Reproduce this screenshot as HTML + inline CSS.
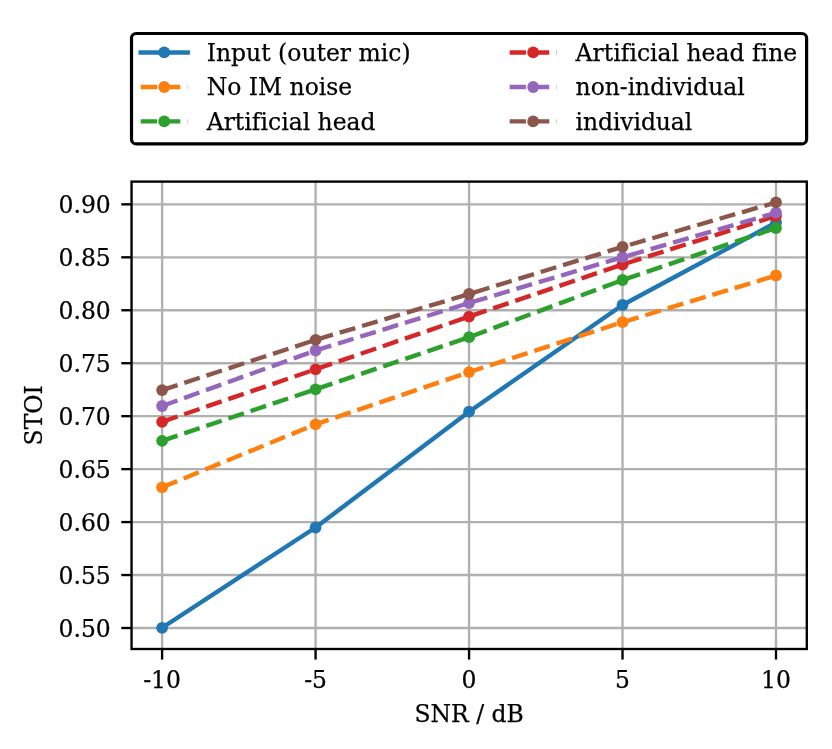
<!DOCTYPE html>
<html lang="en"><head><meta charset="utf-8"><title>STOI vs SNR</title>
<style>html,body{margin:0;padding:0;background:#fff}svg{display:block}text{font-family:"DejaVu Serif","Liberation Serif",serif;font-size:23.48px;fill:#000;font-variant-ligatures:none;font-feature-settings:"liga" 0,"clig" 0;font-kerning:none;stroke:#000;stroke-width:0.25px;stroke-linejoin:round}</style>
</head><body>
<svg width="832" height="749" viewBox="0 0 832 749">
<rect width="832" height="749" fill="#fff"/>
<g stroke="#b0b0b0" stroke-width="2.35" fill="none">
<line x1="162.10" y1="181.60" x2="162.10" y2="649.00"/>
<line x1="315.57" y1="181.60" x2="315.57" y2="649.00"/>
<line x1="469.05" y1="181.60" x2="469.05" y2="649.00"/>
<line x1="622.52" y1="181.60" x2="622.52" y2="649.00"/>
<line x1="776.00" y1="181.60" x2="776.00" y2="649.00"/>
<line x1="131.55" y1="204.35" x2="806.80" y2="204.35"/>
<line x1="131.55" y1="257.31" x2="806.80" y2="257.31"/>
<line x1="131.55" y1="310.26" x2="806.80" y2="310.26"/>
<line x1="131.55" y1="363.22" x2="806.80" y2="363.22"/>
<line x1="131.55" y1="416.17" x2="806.80" y2="416.17"/>
<line x1="131.55" y1="469.12" x2="806.80" y2="469.12"/>
<line x1="131.55" y1="522.08" x2="806.80" y2="522.08"/>
<line x1="131.55" y1="575.03" x2="806.80" y2="575.03"/>
<line x1="131.55" y1="627.99" x2="806.80" y2="627.99"/>
</g>
<g stroke="#000" stroke-width="2.35" fill="none">
<line x1="162.10" y1="649.00" x2="162.10" y2="659.57"/>
<line x1="315.57" y1="649.00" x2="315.57" y2="659.57"/>
<line x1="469.05" y1="649.00" x2="469.05" y2="659.57"/>
<line x1="622.52" y1="649.00" x2="622.52" y2="659.57"/>
<line x1="776.00" y1="649.00" x2="776.00" y2="659.57"/>
<line x1="121.28" y1="204.35" x2="131.55" y2="204.35"/>
<line x1="121.28" y1="257.31" x2="131.55" y2="257.31"/>
<line x1="121.28" y1="310.26" x2="131.55" y2="310.26"/>
<line x1="121.28" y1="363.22" x2="131.55" y2="363.22"/>
<line x1="121.28" y1="416.17" x2="131.55" y2="416.17"/>
<line x1="121.28" y1="469.12" x2="131.55" y2="469.12"/>
<line x1="121.28" y1="522.08" x2="131.55" y2="522.08"/>
<line x1="121.28" y1="575.03" x2="131.55" y2="575.03"/>
<line x1="121.28" y1="627.99" x2="131.55" y2="627.99"/>
</g>
<clipPath id="ax"><rect x="131.55" y="181.60" width="675.25" height="467.40"/></clipPath>
<g clip-path="url(#ax)">
<polyline points="162.10,627.80 315.57,527.50 469.05,411.70 622.52,305.00 776.00,222.50" fill="none" stroke="#1f77b4" stroke-width="4.40" stroke-linejoin="round" stroke-linecap="square"/>
<circle cx="162.10" cy="627.80" r="5.90" fill="#1f77b4"/>
<circle cx="315.57" cy="527.50" r="5.90" fill="#1f77b4"/>
<circle cx="469.05" cy="411.70" r="5.90" fill="#1f77b4"/>
<circle cx="622.52" cy="305.00" r="5.90" fill="#1f77b4"/>
<circle cx="776.00" cy="222.50" r="5.90" fill="#1f77b4"/>
<polyline points="162.10,487.30 315.57,424.30 469.05,372.10 622.52,322.20 776.00,275.50" fill="none" stroke="#ff7f0e" stroke-width="4.40" stroke-linejoin="round" stroke-dasharray="16.29 7.04" stroke-linecap="butt"/>
<circle cx="162.10" cy="487.30" r="5.90" fill="#ff7f0e"/>
<circle cx="315.57" cy="424.30" r="5.90" fill="#ff7f0e"/>
<circle cx="469.05" cy="372.10" r="5.90" fill="#ff7f0e"/>
<circle cx="622.52" cy="322.20" r="5.90" fill="#ff7f0e"/>
<circle cx="776.00" cy="275.50" r="5.90" fill="#ff7f0e"/>
<polyline points="162.10,440.80 315.57,389.30 469.05,337.20 622.52,280.00 776.00,228.00" fill="none" stroke="#2ca02c" stroke-width="4.40" stroke-linejoin="round" stroke-dasharray="16.29 7.04" stroke-linecap="butt"/>
<circle cx="162.10" cy="440.80" r="5.90" fill="#2ca02c"/>
<circle cx="315.57" cy="389.30" r="5.90" fill="#2ca02c"/>
<circle cx="469.05" cy="337.20" r="5.90" fill="#2ca02c"/>
<circle cx="622.52" cy="280.00" r="5.90" fill="#2ca02c"/>
<circle cx="776.00" cy="228.00" r="5.90" fill="#2ca02c"/>
<polyline points="162.10,421.80 315.57,369.30 469.05,316.60 622.52,264.50 776.00,216.00" fill="none" stroke="#d62728" stroke-width="4.40" stroke-linejoin="round" stroke-dasharray="16.29 7.04" stroke-linecap="butt"/>
<circle cx="162.10" cy="421.80" r="5.90" fill="#d62728"/>
<circle cx="315.57" cy="369.30" r="5.90" fill="#d62728"/>
<circle cx="469.05" cy="316.60" r="5.90" fill="#d62728"/>
<circle cx="622.52" cy="264.50" r="5.90" fill="#d62728"/>
<circle cx="776.00" cy="216.00" r="5.90" fill="#d62728"/>
<polyline points="162.10,406.00 315.57,350.50 469.05,303.00 622.52,257.20 776.00,212.70" fill="none" stroke="#9467bd" stroke-width="4.40" stroke-linejoin="round" stroke-dasharray="16.29 7.04" stroke-linecap="butt"/>
<circle cx="162.10" cy="406.00" r="5.90" fill="#9467bd"/>
<circle cx="315.57" cy="350.50" r="5.90" fill="#9467bd"/>
<circle cx="469.05" cy="303.00" r="5.90" fill="#9467bd"/>
<circle cx="622.52" cy="257.20" r="5.90" fill="#9467bd"/>
<circle cx="776.00" cy="212.70" r="5.90" fill="#9467bd"/>
<polyline points="162.10,390.10 315.57,339.90 469.05,294.00 622.52,246.90 776.00,202.40" fill="none" stroke="#8c564b" stroke-width="4.40" stroke-linejoin="round" stroke-dasharray="16.29 7.04" stroke-linecap="butt"/>
<circle cx="162.10" cy="390.10" r="5.90" fill="#8c564b"/>
<circle cx="315.57" cy="339.90" r="5.90" fill="#8c564b"/>
<circle cx="469.05" cy="294.00" r="5.90" fill="#8c564b"/>
<circle cx="622.52" cy="246.90" r="5.90" fill="#8c564b"/>
<circle cx="776.00" cy="202.40" r="5.90" fill="#8c564b"/>
</g>
<rect x="131.55" y="181.60" width="675.25" height="467.40" fill="none" stroke="#000" stroke-width="2.35"/>
<text x="110.80" y="213.40" text-anchor="end">0.90</text>
<text x="110.80" y="266.36" text-anchor="end">0.85</text>
<text x="110.80" y="319.31" text-anchor="end">0.80</text>
<text x="110.80" y="372.27" text-anchor="end">0.75</text>
<text x="110.80" y="425.22" text-anchor="end">0.70</text>
<text x="110.80" y="478.18" text-anchor="end">0.65</text>
<text x="110.80" y="531.13" text-anchor="end">0.60</text>
<text x="110.80" y="584.08" text-anchor="end">0.55</text>
<text x="110.80" y="637.04" text-anchor="end">0.50</text>
<text x="162.10" y="688.20" text-anchor="middle">-10</text>
<text x="315.57" y="688.20" text-anchor="middle">-5</text>
<text x="469.05" y="688.20" text-anchor="middle">0</text>
<text x="622.52" y="688.20" text-anchor="middle">5</text>
<text x="776.00" y="688.20" text-anchor="middle">10</text>
<text x="469.17" y="721.85" text-anchor="middle">SNR / dB</text>
<text transform="translate(42.35 415.30) rotate(-90)" text-anchor="middle">STOI</text>
<rect x="131.50" y="33.50" width="675.10" height="110.35" rx="4.7" ry="4.7" fill="#fff" stroke="#000" stroke-width="3.20"/>
<line x1="140.70" y1="52.45" x2="187.70" y2="52.45" stroke="#1f77b4" stroke-width="4.40" stroke-linecap="square"/>
<circle cx="164.20" cy="52.45" r="5.90" fill="#1f77b4"/>
<text x="206.70" y="60.50">Input (outer mic)</text>
<line x1="140.70" y1="87.00" x2="187.70" y2="87.00" stroke="#ff7f0e" stroke-width="4.40" stroke-dasharray="16.29 7.04"/>
<circle cx="164.20" cy="87.00" r="5.90" fill="#ff7f0e"/>
<text x="206.70" y="95.45">No IM noise</text>
<line x1="140.70" y1="121.40" x2="187.70" y2="121.40" stroke="#2ca02c" stroke-width="4.40" stroke-dasharray="16.29 7.04"/>
<circle cx="164.20" cy="121.40" r="5.90" fill="#2ca02c"/>
<text x="206.70" y="129.75">Artificial head</text>
<line x1="509.65" y1="52.45" x2="556.65" y2="52.45" stroke="#d62728" stroke-width="4.40" stroke-dasharray="16.29 7.04"/>
<circle cx="533.15" cy="52.45" r="5.90" fill="#d62728"/>
<text x="575.60" y="60.50">Artificial head fine</text>
<line x1="509.65" y1="87.00" x2="556.65" y2="87.00" stroke="#9467bd" stroke-width="4.40" stroke-dasharray="16.29 7.04"/>
<circle cx="533.15" cy="87.00" r="5.90" fill="#9467bd"/>
<text x="575.60" y="95.45" letter-spacing="-0.06">non-individual</text>
<line x1="509.65" y1="121.40" x2="556.65" y2="121.40" stroke="#8c564b" stroke-width="4.40" stroke-dasharray="16.29 7.04"/>
<circle cx="533.15" cy="121.40" r="5.90" fill="#8c564b"/>
<text x="575.60" y="129.75" letter-spacing="-0.1">individual</text>
</svg>
</body></html>
